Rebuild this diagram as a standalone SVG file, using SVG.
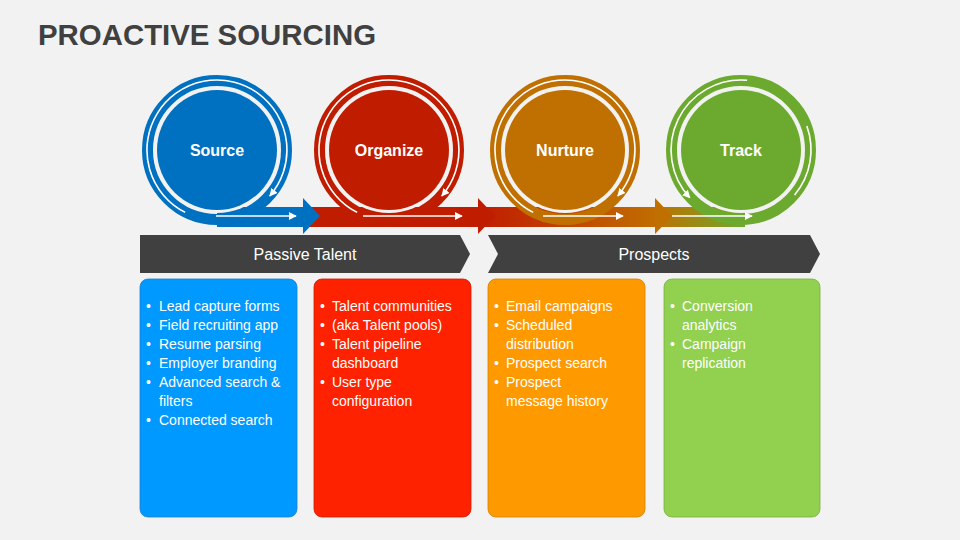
<svg xmlns="http://www.w3.org/2000/svg" width="960" height="540" viewBox="0 0 960 540">
<defs>
<style>
.t{font-family:"Liberation Sans",Arial,sans-serif;fill:#fff}
.lbl{font-size:16px;font-weight:bold;text-anchor:middle}
.b{font-size:14px}
.h{font-size:16px;text-anchor:middle}
.wl{fill:none;stroke:#fff;stroke-width:1.6}
.gap{fill:#F2F2F2}
</style>
<marker id="ah" viewBox="0 0 10 10" refX="9" refY="5" markerWidth="5" markerHeight="5" orient="auto"><path d="M0,0L10,5L0,10z" fill="#fff"/></marker>
<linearGradient id="g1" x1="0" x2="1"><stop offset="0" stop-color="#C01C00"/><stop offset="1" stop-color="#C07000"/></linearGradient>
<linearGradient id="g2" x1="0" x2="1"><stop offset="0" stop-color="#C07000"/><stop offset="1" stop-color="#6CAA2F"/></linearGradient>
</defs>
<rect width="960" height="540" fill="#F2F2F2"/>
<text x="38" y="45" font-family="Liberation Sans,Arial,sans-serif" font-weight="bold" font-size="30" fill="#404040" textLength="338" lengthAdjust="spacingAndGlyphs">PROACTIVE SOURCING</text>

<g id="connectors">
<rect x="655" y="207" width="90" height="20" fill="url(#g2)"/>
<rect x="480" y="207" width="180" height="20" fill="url(#g1)"/>
<rect x="305" y="207" width="180" height="20" fill="#C01C00"/>
<rect x="217" y="207" width="90" height="20" fill="#0070C0"/>
</g>

<g id="source">
<circle cx="217" cy="150" r="69.5" fill="none" stroke="#0070C0" stroke-width="11"/>
<circle cx="217" cy="150" r="63" class="gap"/>
<circle cx="217" cy="150" r="60" fill="#0070C0"/>
<path class="wl" d="M185.2,212.4A70,70 0 1 1 269.8,195.9" marker-end="url(#ah)"/>
<text class="t lbl" x="217" y="156">Source</text>
</g>
<g id="organize">
<circle cx="389" cy="150" r="69.5" fill="none" stroke="#C01C00" stroke-width="11"/>
<circle cx="389" cy="150" r="63" class="gap"/>
<circle cx="389" cy="150" r="60" fill="#C01C00"/>
<path class="wl" d="M357.2,212.4A70,70 0 1 1 441.8,195.9" marker-end="url(#ah)"/>
<text class="t lbl" x="389" y="156">Organize</text>
</g>
<g id="nurture">
<circle cx="565" cy="150" r="69.5" fill="none" stroke="#C07000" stroke-width="11"/>
<circle cx="565" cy="150" r="63" class="gap"/>
<circle cx="565" cy="150" r="60" fill="#C07000"/>
<path class="wl" d="M533.2,212.4A70,70 0 1 1 617.8,195.9" marker-end="url(#ah)"/>
<text class="t lbl" x="565" y="156">Nurture</text>
</g>
<g id="track">
<circle cx="741" cy="150" r="69.5" fill="none" stroke="#6CAA2F" stroke-width="11"/>
<circle cx="741" cy="150" r="63" class="gap"/>
<circle cx="741" cy="150" r="60" fill="#6CAA2F"/>
<path class="wl" d="M747.1,80.3A70,70 0 0 0 689.8,197.7" marker-end="url(#ah)"/>
<path class="wl" d="M806.8,126.1A70,70 0 0 1 794.6,195"/>
<text class="t lbl" x="741" y="156">Track</text>
</g>

<g id="heads">
<path d="M303,198L320,216L303,234z" fill="#0070C0"/>
<path d="M478,198L495,216L478,234z" fill="#C01C00"/>
<path d="M655,198L672,216L655,234z" fill="#C07000"/>
<path class="wl" d="M216,216H296" marker-end="url(#ah)"/>
<path class="wl" d="M363,216H462" marker-end="url(#ah)"/>
<path class="wl" d="M543,216H623" marker-end="url(#ah)"/>
<path class="wl" d="M672,216H752" marker-end="url(#ah)"/>
</g>

<g id="passive">
<polygon points="140,235 460,235 470,254 460,273 140,273" fill="#404040"/>
<text class="t h" x="305" y="260">Passive Talent</text>
</g>
<g id="prospects">
<polygon points="488,235 810,235 820,254 810,273 488,273 498,254" fill="#404040"/>
<text class="t h" x="654" y="260">Prospects</text>
</g>

<g id="box1">
<rect x="140" y="279" width="157" height="238" rx="8" fill="#0099FF" stroke="#1F7FCF" stroke-width="0.8"/>
<text class="t b"><tspan x="146" y="311">•</tspan><tspan x="159" y="311">Lead capture forms</tspan><tspan x="146" y="330">•</tspan><tspan x="159" y="330">Field recruiting app</tspan><tspan x="146" y="349">•</tspan><tspan x="159" y="349">Resume parsing</tspan><tspan x="146" y="368">•</tspan><tspan x="159" y="368">Employer branding</tspan><tspan x="146" y="387">•</tspan><tspan x="159" y="387">Advanced search &amp;</tspan><tspan x="159" y="406">filters</tspan><tspan x="146" y="425">•</tspan><tspan x="159" y="425">Connected search</tspan></text>
</g>
<g id="box2">
<rect x="314" y="279" width="157" height="238" rx="8" fill="#FF2200" stroke="#C81C00" stroke-width="0.8"/>
<text class="t b"><tspan x="320" y="311">•</tspan><tspan x="332" y="311">Talent communities</tspan><tspan x="320" y="330">•</tspan><tspan x="332" y="330">(aka Talent pools)</tspan><tspan x="320" y="349">•</tspan><tspan x="332" y="349">Talent pipeline</tspan><tspan x="332" y="368">dashboard</tspan><tspan x="320" y="387">•</tspan><tspan x="332" y="387">User type</tspan><tspan x="332" y="406">configuration</tspan></text>
</g>
<g id="box3">
<rect x="488" y="279" width="157" height="238" rx="8" fill="#FF9900" stroke="#D08000" stroke-width="0.8"/>
<text class="t b"><tspan x="494" y="311">•</tspan><tspan x="506" y="311">Email campaigns</tspan><tspan x="494" y="330">•</tspan><tspan x="506" y="330">Scheduled</tspan><tspan x="506" y="349">distribution</tspan><tspan x="494" y="368">•</tspan><tspan x="506" y="368">Prospect search</tspan><tspan x="494" y="387">•</tspan><tspan x="506" y="387">Prospect</tspan><tspan x="506" y="406">message history</tspan></text>
</g>
<g id="box4">
<rect x="664" y="279" width="156" height="238" rx="8" fill="#92D050" stroke="#78B040" stroke-width="0.8"/>
<text class="t b"><tspan x="670" y="311">•</tspan><tspan x="682" y="311">Conversion</tspan><tspan x="682" y="330">analytics</tspan><tspan x="670" y="349">•</tspan><tspan x="682" y="349">Campaign</tspan><tspan x="682" y="368">replication</tspan></text>
</g>
</svg>
